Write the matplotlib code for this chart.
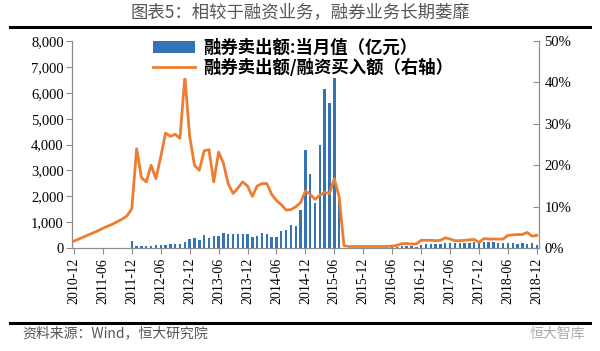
import numpy as np
import matplotlib
matplotlib.use("Agg")
import matplotlib.pyplot as plt
from matplotlib.lines import Line2D
from matplotlib.patches import Patch

plt.rcParams['font.family'] = ['Liberation Serif', 'Noto Sans CJK SC', 'DejaVu Sans']

# 月份: 2010-12 ... 2018-12
start_year, start_month, n_months = 2010, 12, 97
month_labels = []
for k in range(n_months):
    m = start_month - 1 + k
    month_labels.append(f"{start_year + m // 12}-{m % 12 + 1:02d}")

# 融券卖出额:当月值（亿元）
short_sell = [
    0, 0, 0, 0, 0, 0, 0, 0, 0, 0, 0, 0,
    290, 80, 100, 100, 100, 110, 120, 140, 150, 170, 150, 230,
    350, 380, 310, 490, 390, 460, 470, 600, 550, 550, 550, 540,
    540, 440, 470, 580, 540, 425, 425, 660, 690, 910, 870, 1460,
    3810, 2880, 1730, 4000, 6140, 5610, 7200, 1980, 0, 0, 0, 0,
    0, 0, 0, 0, 0, 0, 40, 60, 80, 70, 90, 60,
    130, 150, 160, 150, 170, 180, 200, 180, 190, 210, 190, 220,
    200, 240, 220, 250, 210, 180, 200, 190, 170, 180, 150, 190,
    120,
]

# 融券卖出额/融资买入额（右轴, %）
ratio = [
    1.7, 2.2, 2.7, 3.2, 3.7, 4.2, 4.8, 5.3, 5.8, 6.4, 7.0, 7.8,
    9.5, 24.0, 17.0, 16.0, 20.0, 16.8, 22.0, 27.8, 27.0, 27.5, 26.5, 41.5,
    27.0, 20.0, 18.8, 23.5, 23.8, 16.0, 23.2, 20.5, 15.5, 13.2, 14.5, 16.0,
    15.0, 12.5, 15.0, 15.6, 15.6, 13.0, 11.5, 10.5, 9.2, 9.3, 10.0, 11.0,
    13.8, 13.0, 11.8, 12.8, 13.5, 13.2, 16.8, 12.4, 0.6, 0.4, 0.4, 0.4,
    0.4, 0.4, 0.4, 0.4, 0.4, 0.4, 0.5, 0.7, 1.1, 1.1, 1.0, 1.0,
    1.9, 1.9, 1.9, 1.8, 1.9, 2.5, 2.2, 1.8, 1.8, 1.9, 2.0, 2.1,
    1.4, 2.3, 2.2, 2.2, 2.2, 2.2, 3.1, 3.2, 3.3, 3.3, 3.8, 2.9,
    3.1,
]

left_ticks = [0, 1000, 2000, 3000, 4000, 5000, 6000, 7000, 8000]
right_ticks = [0, 10, 20, 30, 40, 50]

fig = plt.figure(figsize=(6.0, 3.51), dpi=100)
ax = fig.add_axes([0.12, 0.293, 0.778, 0.59])
ax2 = ax.twinx()

x = np.arange(n_months)
ax.bar(x, short_sell, width=0.5, color='#3473b5', zorder=2)
ax2.plot(x, ratio, color='#ed7d31', lw=2.0, solid_joinstyle='round', zorder=3)

ax.set_xlim(-0.4, n_months - 0.6)
ax.set_ylim(0, 8000)
ax2.set_ylim(0, 50)
ax.set_yticks(left_ticks)
ax.set_yticklabels([f"{v:,}" for v in left_ticks], fontsize=10.5)
ax2.set_yticks(right_ticks)
ax2.set_yticklabels([f"{v}%" for v in right_ticks], fontsize=10.5)
ax.set_xticks(x[::6])
ax.set_xticklabels(month_labels[::6], rotation=90, fontsize=10)

grey = '#8c8c8c'
for a in (ax, ax2):
    a.spines['top'].set_visible(False)
    for s in ('left', 'right', 'bottom'):
        a.spines[s].set_color(grey)
ax.tick_params(axis='y', direction='out', length=4, color=grey, pad=2)
ax.tick_params(axis='x', direction='out', length=4, color=grey, pad=3)
ax2.tick_params(axis='y', direction='in', length=4, color=grey, pad=4)

ax2.set_zorder(ax.get_zorder() + 1)
ax2.patch.set_visible(False)

handles = [Patch(facecolor='#3473b5', edgecolor='none'),
           Line2D([0], [0], color='#ed7d31', lw=2.0)]
labels = ['融券卖出额:当月值（亿元）', '融券卖出额/融资买入额（右轴）']
leg = ax2.legend(handles, labels, loc='upper left', bbox_to_anchor=(0.172, 1.015),
                 frameon=True, framealpha=1, edgecolor='none', facecolor='white',
                 prop={'family': ['Noto Sans CJK SC', 'DejaVu Sans'], 'size': 12.5, 'weight': 'bold'},
                 handlelength=2.4, handleheight=0.7, labelspacing=0.15, borderpad=0.05,
                 handletextpad=0.5, borderaxespad=0)

fig.text(0.5, 0.962, '图表5：相较于融资业务，融券业务长期萎靡', ha='center', va='center',
         fontsize=12.5, color='#555555', family=['Noto Sans CJK SC', 'DejaVu Sans'])
fig.add_artist(Line2D([0.017, 0.983], [0.923, 0.923], color='black', lw=2.2))
fig.add_artist(Line2D([0.017, 0.983], [0.08, 0.08], color='black', lw=2.2))
fig.text(0.037, 0.05, '资料来源：Wind，恒大研究院', ha='left', va='center',
         fontsize=10, color='#555555', style='italic',
         family=['Noto Sans CJK SC', 'DejaVu Sans'])
fig.text(0.975, 0.05, '恒大智库', ha='right', va='center', fontsize=10,
         color='#aaaaaa', family=['Noto Sans CJK SC', 'DejaVu Sans'])

fig.savefig('out.png', dpi=100)
